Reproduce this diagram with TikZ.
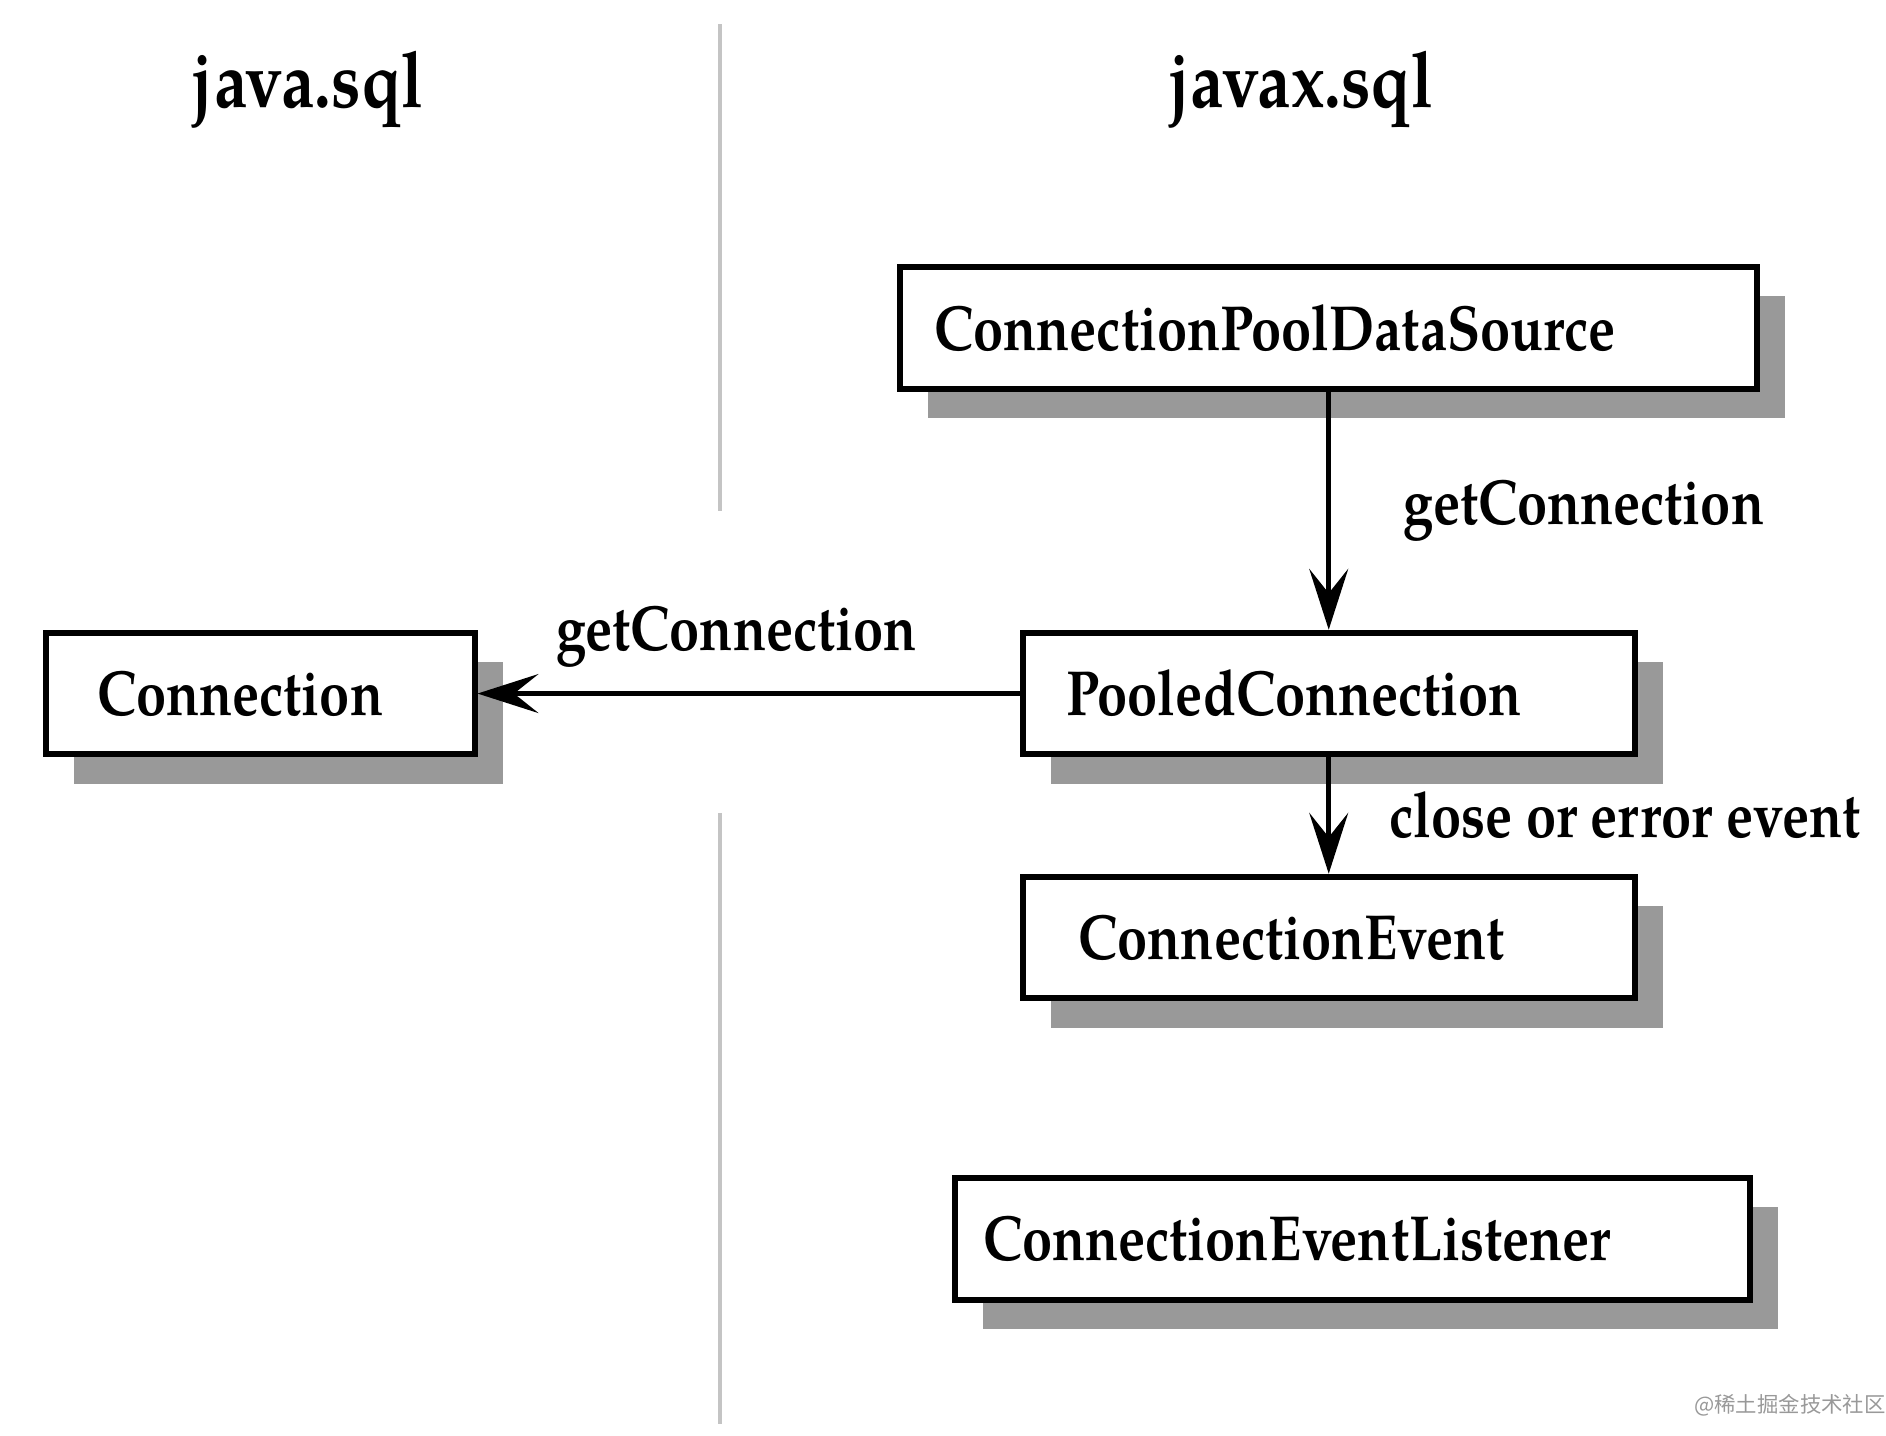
\documentclass[tikz,border=0pt]{standalone}
\usepackage{fontspec}
\setmainfont{texgyrepagella}[Extension=.otf, UprightFont=*-regular, BoldFont=*-bold, FakeStretch=0.85]
\newfontfamily\cjk{Noto Sans CJK SC}
\usepackage{xcolor}
\usepackage{tikz}
\usetikzlibrary{arrows.meta, positioning, shadows}

\definecolor{shadowgray}{HTML}{999999}
\definecolor{rulegray}{HTML}{C4C4C4}

\tikzset{
  classbox/.style={draw, line width=1.4pt, fill=white, minimum height=1cm,
    align=left, font=\fontsize{14.9}{17}\selectfont\bfseries,
    drop shadow={shadow xshift=0.23cm, shadow yshift=-0.24cm, fill=shadowgray, opacity=1}},
  calllabel/.style={font=\fontsize{14.9}{17}\selectfont\bfseries},
  callarrow/.style={-{Stealth[length=0.5cm, width=0.32cm, inset=0.2cm]}, line width=1.2pt},
  pkgtitle/.style={anchor=base, font=\fontsize{18.3}{22}\selectfont\bfseries}
}

\begin{document}
\begin{tikzpicture}
  \useasboundingbox (0,0) rectangle (15.5,11.8);
  % package titles and divider
  \node[pkgtitle] (javasql) at (2.53,10.92) {java.sql};
  \node[pkgtitle] (javaxsql) at (10.69,10.92) {javax.sql};
  \draw[rulegray, line width=0.9pt] (5.92,11.6) -- (5.92,7.6);
  \draw[rulegray, line width=0.9pt] (5.92,5.12) -- (5.92,0.1);
  % classes
  \node[classbox, text width=6.48cm, inner xsep=0.28cm] (poolds) at (10.92,9.105) {ConnectionPoolDataSource};
  \node[classbox, text width=4.31cm, inner xsep=0.36cm] (pooled) at (10.92,6.10) {PooledConnection};
  \node[classbox, text width=2.68cm, inner xsep=0.42cm] (conn) at (2.14,6.10) {Connection};
  \node[classbox, text width=4.11cm, inner xsep=0.46cm] (connevent) at (10.92,4.095) {ConnectionEvent};
  \node[classbox, text width=6.07cm, inner xsep=0.23cm] (listener) at (11.115,1.62) {ConnectionEventListener};
  % calls
  \draw[callarrow] (poolds) -- (pooled) node[midway, right=0.48cm, calllabel] {getConnection};
  \draw[callarrow] (pooled) -- (conn) node[midway, above=0.08cm, xshift=-0.1cm, calllabel] {getConnection};
  \draw[callarrow] (pooled) -- (connevent) node[midway, right=0.36cm, calllabel] {close or error event};
  % watermark
  \node[text=shadowgray, font=\cjk\fontsize{5}{6}\selectfont] (mark) at (14.71,0.25) {@稀土掘金技术社区};
\end{tikzpicture}
\end{document}
